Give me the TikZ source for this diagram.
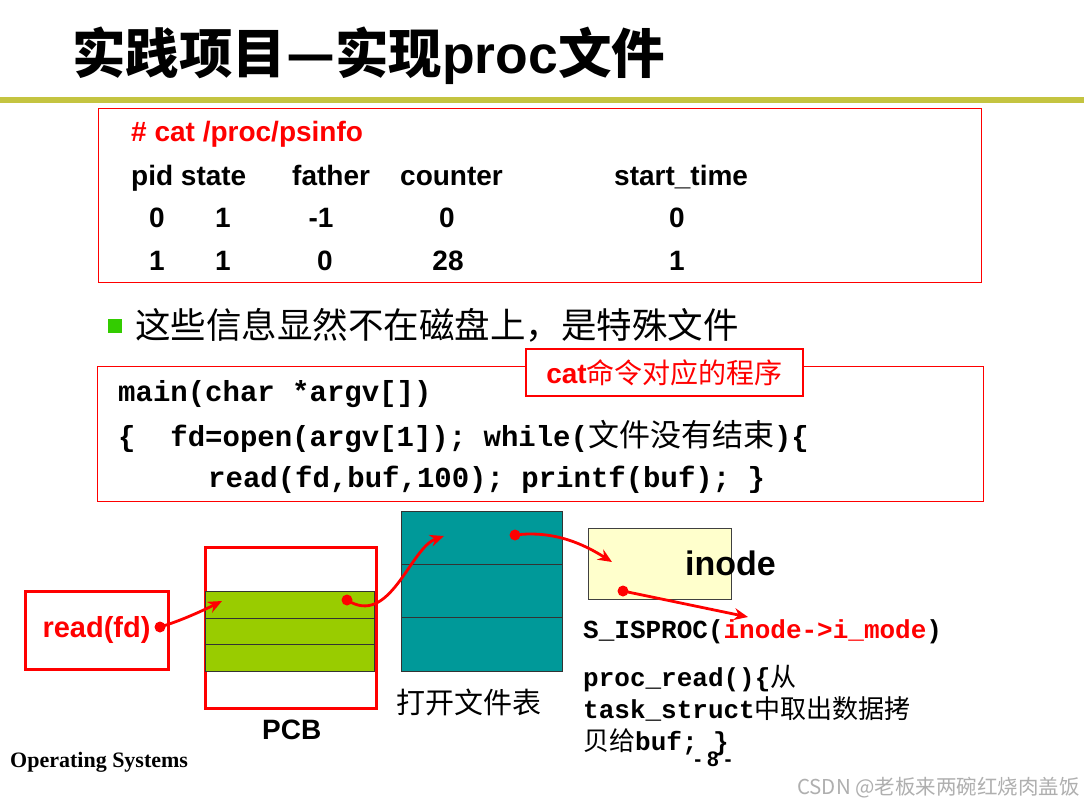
\documentclass[tikz,border=0pt]{standalone}
\usepackage{fontspec}
\setmainfont{Liberation Sans}
\setmonofont{Liberation Mono}
\newfontfamily\cjk{Noto Sans CJK SC}
\newfontfamily\timesf{Liberation Serif}
\usepackage{xcolor}
\definecolor{barolive}{RGB}{196,196,64}
\definecolor{pcbgreen}{RGB}{153,204,0}
\definecolor{tableteal}{RGB}{0,153,153}
\definecolor{inodeyellow}{RGB}{255,255,204}
\definecolor{bulletgreen}{RGB}{51,204,0}
\definecolor{markgray}{RGB}{175,175,175}
\usetikzlibrary{arrows.meta}
\newcommand{\fsz}[1]{\fontsize{#1}{#1}\selectfont}

\begin{document}
\begin{tikzpicture}[x=1pt, y=-1pt,
    txt/.style={inner sep=0pt, anchor=base west},
    cell/.style={inner sep=0pt, anchor=base, font=\fsz{28}\bfseries},
    hdr/.style={txt, font=\fsz{28}\bfseries},
    codeline/.style={txt, font=\fsz{29}\ttfamily\bfseries},
    rcode/.style={txt, font=\fsz{26}\ttfamily\bfseries},
    redbox/.style={draw=red, line width=1.2pt, inner sep=0pt},
    thickred/.style={draw=red, line width=3pt, inner sep=0pt},
    row/.style={draw=black!80, line width=0.8pt, inner sep=0pt, anchor=north west},
    ptr/.style={red, line width=2.8pt, -{Stealth[length=14pt,width=12pt]}},
    ptrdot/.style={circle, fill=red, inner sep=0pt, minimum size=11pt}]
    \useasboundingbox[fill=white] (0,0) rectangle (1084,806);

    % title and bar
    \node[txt, font=\fsz{53.5}] (title) at (72,73)
        {{\cjk\bfseries 实践项目—实现}\textbf{proc}{\cjk\bfseries 文件}};
    \draw[barolive, line width=6pt] (0,100) -- (1084,100);

    % cat /proc/psinfo output
    \node[redbox, anchor=north west, minimum width=883pt, minimum height=174pt] (psbox) at (98,108) {};
    \node[hdr, red] (cmd) at (131,141) {\# cat /proc/psinfo};
    \node[hdr] (hpid) at (131,185) {pid state};
    \node[hdr] (hfather) at (292,185) {father};
    \node[hdr] (hcounter) at (400,185) {counter};
    \node[hdr] (hstart) at (614,185) {start\_time};
    \foreach \x/\v [count=\i] in {157/0, 223/1, 321/-1, 447/0, 677/0}
        \node[cell] (ra\i) at (\x,227) {\v};
    \foreach \x/\v [count=\i] in {157/1, 223/1, 325/0, 448/28, 677/1}
        \node[cell] (rb\i) at (\x,270) {\v};

    % bullet line
    \node[fill=bulletgreen, minimum size=14pt, inner sep=0pt] (bullet) at (115,326) {};
    \node[txt, font=\fsz{35.5}\cjk] (note) at (135,338) {这些信息显然不在磁盘上，是特殊文件};

    % program of cat
    \node[redbox, anchor=north west, minimum width=886pt, minimum height=135pt] (codebox) at (97,366) {};
    \node[codeline] (c1) at (118,401) {main(char *argv[])};
    \node[codeline] (c2) at (118,446) {\{\ \ fd=open(argv[1]); while({\cjk\mdseries\fsz{31}文件没有结束}){\{}};
    \node[codeline] (c3) at (208,487) {read(fd,buf,100); printf(buf); \}};
    \node[redbox, fill=white, text=red, minimum width=277pt, minimum height=47pt, font=\fsz{28}] (catlabel) at (664.5,372.5)
        {\textbf{cat}{\cjk 命令对应的程序}};

    % read(fd), PCB, file table, inode
    \node[thickred, minimum width=143pt, minimum height=78pt, text=red, font=\fsz{29}\bfseries] (readfd) at (96.5,630) {read(fd)};
    \node[thickred, anchor=north west, minimum width=171pt, minimum height=161pt] (pcb) at (204,546) {};
    \foreach \y [count=\i] in {591, 617.7, 644.3}
        \node[row, fill=pcbgreen, minimum width=169pt, minimum height=26.7pt] (pcbrow\i) at (205,\y) {};
    \node[txt, font=\fsz{28}\bfseries] (pcblabel) at (262,739) {PCB};
    \foreach \y [count=\i] in {511, 564, 617}
        \node[row, fill=tableteal, minimum width=161pt, minimum height=53.5pt] (tab\i) at (401,\y) {};
    \node[txt, font=\fsz{29}\cjk] (tablabel) at (396,713) {打开文件表};
    \node[draw=black!75, line width=0.8pt, fill=inodeyellow, anchor=north west, minimum width=143pt, minimum height=71pt] (inode) at (588,528) {};
    \node[txt, font=\fsz{34}\bfseries] (inodelabel) at (685,575) {inode};

    % pointers
    \node[ptrdot] (rdot) at (160,627) {};
    \node[ptrdot] (pdot) at (347,600) {};
    \node[ptrdot] (tdot) at (515,535) {};
    \node[ptrdot] (idot) at (623,591) {};
    \coordinate (rtip) at (222,601);
    \coordinate (ttip) at (444,536);
    \coordinate (itip) at (612,562);
    \coordinate (mtip) at (748,617);
    \draw[ptr] (rdot.center) .. controls +(20,-6) and +(-20,10) .. (rtip);
    \draw[ptr] (pdot.center) .. controls +(43,28) and +(-34,12) .. (ttip);
    \draw[ptr] (tdot.center) .. controls +(40,-5) and +(-27,-17) .. (itip);
    \draw[ptr] (idot.center) -- (mtip);

    % proc side
    \node[rcode] (isproc) at (583,638) {S\_ISPROC(\textcolor{red}{inode->i\_mode})};
    \node[rcode] (pr1) at (583,686) {proc\_read()\{{\cjk\mdseries 从}};
    \node[rcode] (pr2) at (583,718) {task\_struct{\cjk\mdseries 中取出数据拷}};
    \node[rcode] (pr3) at (583,750) {{\cjk\mdseries 贝给}buf;\ \}};

    % footer
    \node[txt, font=\fsz{22}\timesf\bfseries] (os) at (10,767) {Operating Systems};
    \node[inner sep=0pt, anchor=base, font=\fsz{21}\bfseries] (page) at (713,766) {- 8 -};
    \node[txt, text=markgray, font=\fsz{20.5}\cjk] (mark) at (797,794) {CSDN @老板来两碗红烧肉盖饭};
\end{tikzpicture}
\end{document}
